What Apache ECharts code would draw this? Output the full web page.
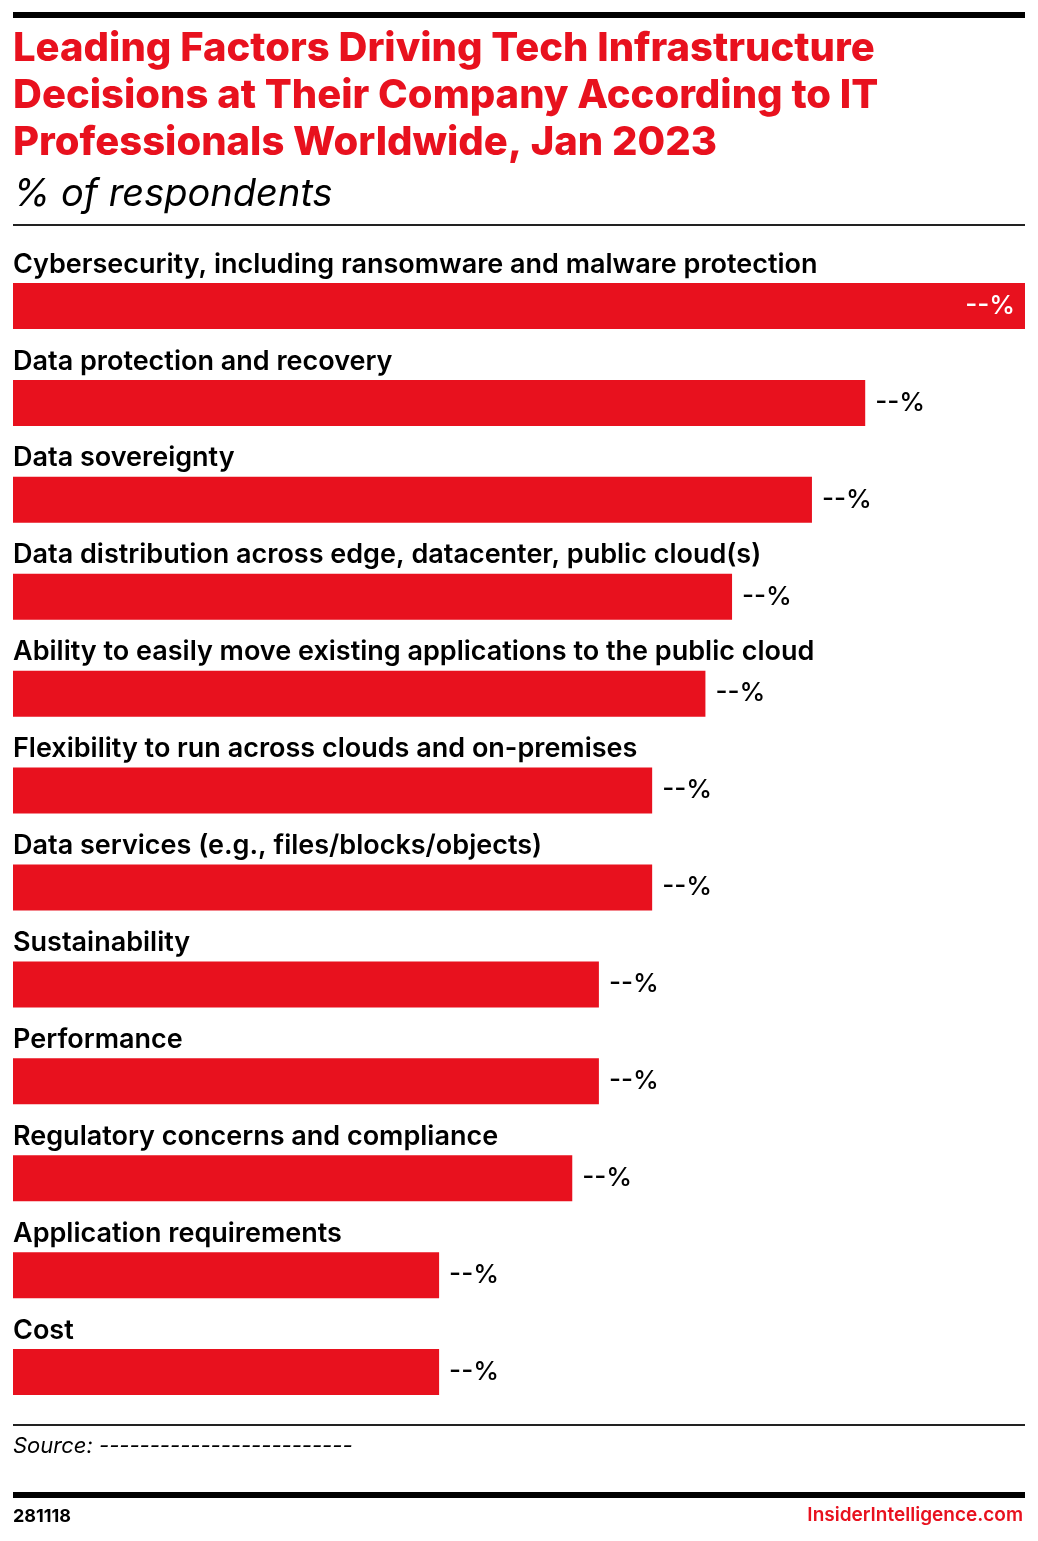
<!DOCTYPE html>
<html>
<head>
<meta charset="utf-8">
<script src="https://cdn.jsdelivr.net/npm/echarts@6/dist/echarts.min.js"></script>
<style>
  html, body { margin: 0; padding: 0; background: #fff; }
  #chart { width: 1038px; height: 1541px; }
</style>
</head>
<body>
<div id="chart"></div>
<script>
var categories = [
  'Cybersecurity, including ransomware and malware protection',
  'Data protection and recovery',
  'Data sovereignty',
  'Data distribution across edge, datacenter, public cloud(s)',
  'Ability to easily move existing applications to the public cloud',
  'Flexibility to run across clouds and on-premises',
  'Data services (e.g., files/blocks/objects)',
  'Sustainability',
  'Performance',
  'Regulatory concerns and compliance',
  'Application requirements',
  'Cost'
];
var values = [38, 32, 30, 27, 26, 24, 24, 22, 22, 21, 16, 16];

var red = '#E8111E';
var font = 'Inter, "Noto Sans", sans-serif';

var chart = echarts.init(document.getElementById('chart'));

var seriesData = values.map(function (v, i) {
  var item = { value: v };
  if (i === 0) {
    item.label = { position: 'insideRight', color: '#fff', distance: 10 };
  }
  return item;
});

var option = {
  backgroundColor: '#fff',
  animation: false,
  title: [{
    text: 'Leading Factors Driving Tech Infrastructure\nDecisions at Their Company According to IT\nProfessionals Worldwide, Jan 2023',
    left: 13,
    top: 25,
    padding: 0,
    textStyle: {
      color: red,
      fontFamily: font,
      fontWeight: 800,
      fontSize: 40,
      lineHeight: 47
    }
  }, {
    text: '% of respondents',
    left: 13,
    top: 176,
    padding: 0,
    textStyle: {
      color: '#000',
      fontFamily: font,
      fontWeight: 400,
      fontStyle: 'italic',
      fontSize: 38
    }
  }, {
    text: 'Source: -------------------------',
    left: 13,
    top: 1435,
    padding: 0,
    textStyle: {
      color: '#000',
      fontFamily: font,
      fontWeight: 400,
      fontStyle: 'italic',
      fontSize: 22
    }
  }, {
    text: '281118',
    left: 13,
    top: 1508,
    padding: 0,
    textStyle: { color: '#000', fontFamily: font, fontWeight: 700, fontSize: 18 }
  }, {
    text: 'InsiderIntelligence.com',
    right: 15,
    top: 1506,
    padding: 0,
    textStyle: { color: red, fontFamily: font, fontWeight: 600, fontSize: 19 }
  }],
  graphic: [
    { type: 'rect', shape: { x: 13, y: 12, width: 1012, height: 6 }, style: { fill: '#000' } },
    { type: 'rect', shape: { x: 13, y: 224, width: 1012, height: 2 }, style: { fill: '#222' } },
    { type: 'rect', shape: { x: 13, y: 1424, width: 1012, height: 2 }, style: { fill: '#222' } },
    { type: 'rect', shape: { x: 13, y: 1492, width: 1012, height: 6 }, style: { fill: '#000' } }
  ],
  grid: {
    left: 13,
    right: 13,
    top: 257.5,
    bottom: 120.5,
    containLabel: false
  },
  xAxis: {
    type: 'value',
    min: 0,
    max: 38,
    show: false
  },
  yAxis: {
    type: 'category',
    data: categories,
    inverse: true,
    axisLine: { show: false },
    axisTick: { show: false },
    axisLabel: {
      inside: true,
      margin: 0,
      align: 'left',
      verticalAlign: 'bottom',
      padding: [0, 0, 28, 0],
      color: '#000',
      fontFamily: font,
      fontWeight: 600,
      fontSize: 27
    }
  },
  series: [{
    type: 'bar',
    data: seriesData,
    barWidth: 46,
    itemStyle: { color: red },
    label: {
      show: true,
      position: 'right',
      distance: 10,
      formatter: '--%',
      color: '#000',
      fontFamily: font,
      fontWeight: 500,
      fontSize: 26
    }
  }]
};

chart.setOption(option);
</script>
</body>
</html>
